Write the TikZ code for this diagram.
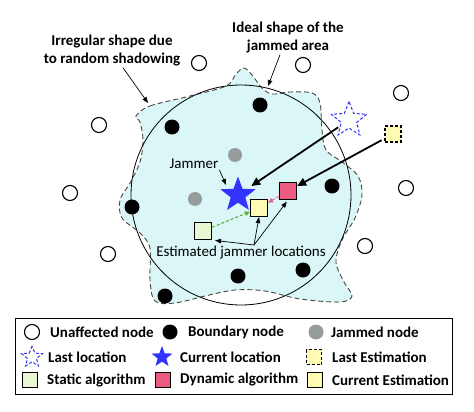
\documentclass[tikz,border=0pt]{standalone}
\usepackage{fontspec}
\setmainfont{Carlito}
\usetikzlibrary{shapes.geometric,arrows.meta}
\definecolor{jamfill}{RGB}{218,246,246}
\definecolor{starblue}{RGB}{51,51,255}
\definecolor{pinkc}{RGB}{236,90,130}
\definecolor{yelc}{RGB}{255,250,180}
\definecolor{greenc}{RGB}{230,247,210}
\definecolor{grayc}{RGB}{150,155,155}
\definecolor{arrgreen}{RGB}{90,170,50}
\definecolor{outlinec}{RGB}{70,70,70}
\begin{document}
\begin{tikzpicture}[x=1pt,y=-1pt,
 unaff/.style={circle,draw=black,line width=1.1pt,fill=white,minimum size=15pt,inner sep=0pt},
 bound/.style={circle,fill=black,minimum size=15pt,inner sep=0pt},
 jamd/.style={circle,fill=grayc,minimum size=14pt,inner sep=0pt},
 bigstar/.style={star,star points=5,star point ratio=2.4,fill=starblue,minimum size=#1,inner sep=0pt},
 laststar/.style={star,star points=5,star point ratio=2.3,draw=starblue,dash pattern=on 3pt off 2pt,line width=1pt,minimum size=#1,inner sep=0pt},
 sq/.style={rectangle,draw=black,line width=1.2pt,minimum size=#1,inner sep=0pt},
 dsq/.style={rectangle,draw=black,dash pattern=on 3pt off 2pt,line width=1.5pt,fill=yelc,minimum size=#1,inner sep=0pt},
 lbl/.style={font=\fontsize{15}{18}\selectfont\bfseries,align=center,inner sep=1pt},
 txt/.style={font=\fontsize{15}{18}\selectfont,inner sep=1pt},
 legtxt/.style={font=\fontsize{15}{18}\selectfont\bfseries,anchor=west,inner sep=0pt},
 bigarrow/.style={line width=1.8pt,-{Triangle[length=9pt,width=8pt]}},
 thinarrow/.style={line width=0.7pt,-{Triangle[length=6pt,width=4.5pt]}},
 colarrow/.style={line width=1pt,dash pattern=on 3pt off 2pt,-{Triangle[length=5pt,width=4.5pt]}},
]
\useasboundingbox (0,0) rectangle (474,412);
% irregular jammed area
\draw[fill=jamfill,draw=outlinec,line width=0.9pt,dash pattern=on 5pt off 3pt]
 plot[smooth cycle,tension=0.55] coordinates{
 (136,116) (150,106) (190,96) (226,86) (236,74) (244,68) (252,75) (262,88)
 (272,94) (290,92) (312,93) (320,103) (322,130) (326,150) (342,162) (358,176)
 (362,195) (355,218) (342,240) (336,262) (344,282) (352,296) (340,302) (300,299)
 (265,291) (235,290) (205,296) (175,303) (155,301) (150,280) (150,248) (140,233)
 (122,218) (120,200) (130,183) (140,162) (143,140) (140,122)};
% ideal circle
\draw[line width=0.8pt] (241,195) circle[radius=110];
% unaffected nodes
\node[unaff] (u1) at (199,63) {};
\node[unaff] (u2) at (99,125) {};
\node[unaff] (u3) at (303,65) {};
\node[unaff] (u4) at (401,93) {};
\node[unaff] (u5) at (70,193) {};
\node[unaff] (u6) at (108,254) {};
\node[unaff] (u7) at (406,188) {};
\node[unaff] (u8) at (365,246) {};
% boundary nodes
\node[bound] (b1) at (260,105) {};
\node[bound] (b2) at (172,127) {};
\node[bound] (b3) at (132,207) {};
\node[bound] (b4) at (332,186) {};
\node[bound] (b5) at (238,276) {};
\node[bound] (b6) at (303,270) {};
\node[bound] (b7) at (165,296) {};
% jammed nodes
\node[jamd] (j1) at (235,155) {};
\node[jamd] (j2) at (195,199) {};
% stars and estimates
\node[bigstar=37pt] (cur) at (238,195) {};
\node[laststar=37pt] (last) at (349,120) {};
\node[dsq=16pt] (lastest) at (393,134) {};
\node[sq=17pt,fill=yelc] (curest) at (259,208) {};
\node[sq=17pt,fill=pinkc] (dyn) at (288,191) {};
\node[sq=17pt,fill=greenc] (stat) at (203,231) {};
% labels
\node[lbl] (irr) at (112,51) {Irregular shape due\\to random shadowing};
\node[lbl] (ideal) at (288,38) {Ideal shape of the\\jammed area};
\node[txt] (jamlbl) at (194,164) {Jammer};
\node[txt] (estlbl) at (241,253) {Estimated jammer locations};
\coordinate (irrtip) at (148,103);
\coordinate (idealtip) at (268,86);
\coordinate (jamtip) at (226,185);
\coordinate (estfrom) at (254,245);
% arrows
\draw[thinarrow] ([xshift=11pt]irr.south) -- (irrtip);
\draw[thinarrow] ([xshift=-8pt]ideal.south) -- (idealtip);
\draw[thinarrow] (jamlbl.south east) -- (jamtip);
\draw[bigarrow,shorten <=13pt,shorten >=16pt] (last.center) -- (cur.center);
\draw[bigarrow,shorten <=3pt] (lastest) -- (dyn);
\draw[colarrow,arrgreen] (stat) -- (curest);
\draw[colarrow,pinkc] (dyn) -- (curest);
\draw[thinarrow,shorten >=3pt] (estfrom) -- (stat.south east);
\draw[thinarrow] (estfrom) -- (curest.south);
\draw[thinarrow,shorten >=2pt] (estfrom) -- (dyn.south);
% legend
\draw[line width=0.8pt] (15,318) rectangle (452,394);
\node[unaff] (lu) at (32,332) {};
\node[legtxt] at (50,332) {Unaffected node};
\node[bound] (lb) at (170,332) {};
\node[legtxt] at (188,332) {Boundary node};
\node[jamd,minimum size=15pt] (lj) at (316,332) {};
\node[legtxt] at (331,332) {Jammed node};
\node[laststar=22pt] (ll) at (32,357) {};
\node[legtxt] at (48,357) {Last location};
\node[bigstar=22pt] (lc) at (162,357) {};
\node[legtxt] at (180,357) {Current location};
\node[dsq=15pt] (lle) at (314,357) {};
\node[legtxt] at (332,357) {Last Estimation};
\node[sq=15pt,fill=greenc] (ls) at (30,380) {};
\node[legtxt] at (47,380) {Static algorithm};
\node[sq=15pt,fill=pinkc] (ld) at (163,380) {};
\node[legtxt] at (180,380) {Dynamic algorithm};
\node[sq=15pt,fill=yelc] (lce) at (315,380) {};
\node[legtxt] at (332,380) {Current Estimation};
\end{tikzpicture}
\end{document}
